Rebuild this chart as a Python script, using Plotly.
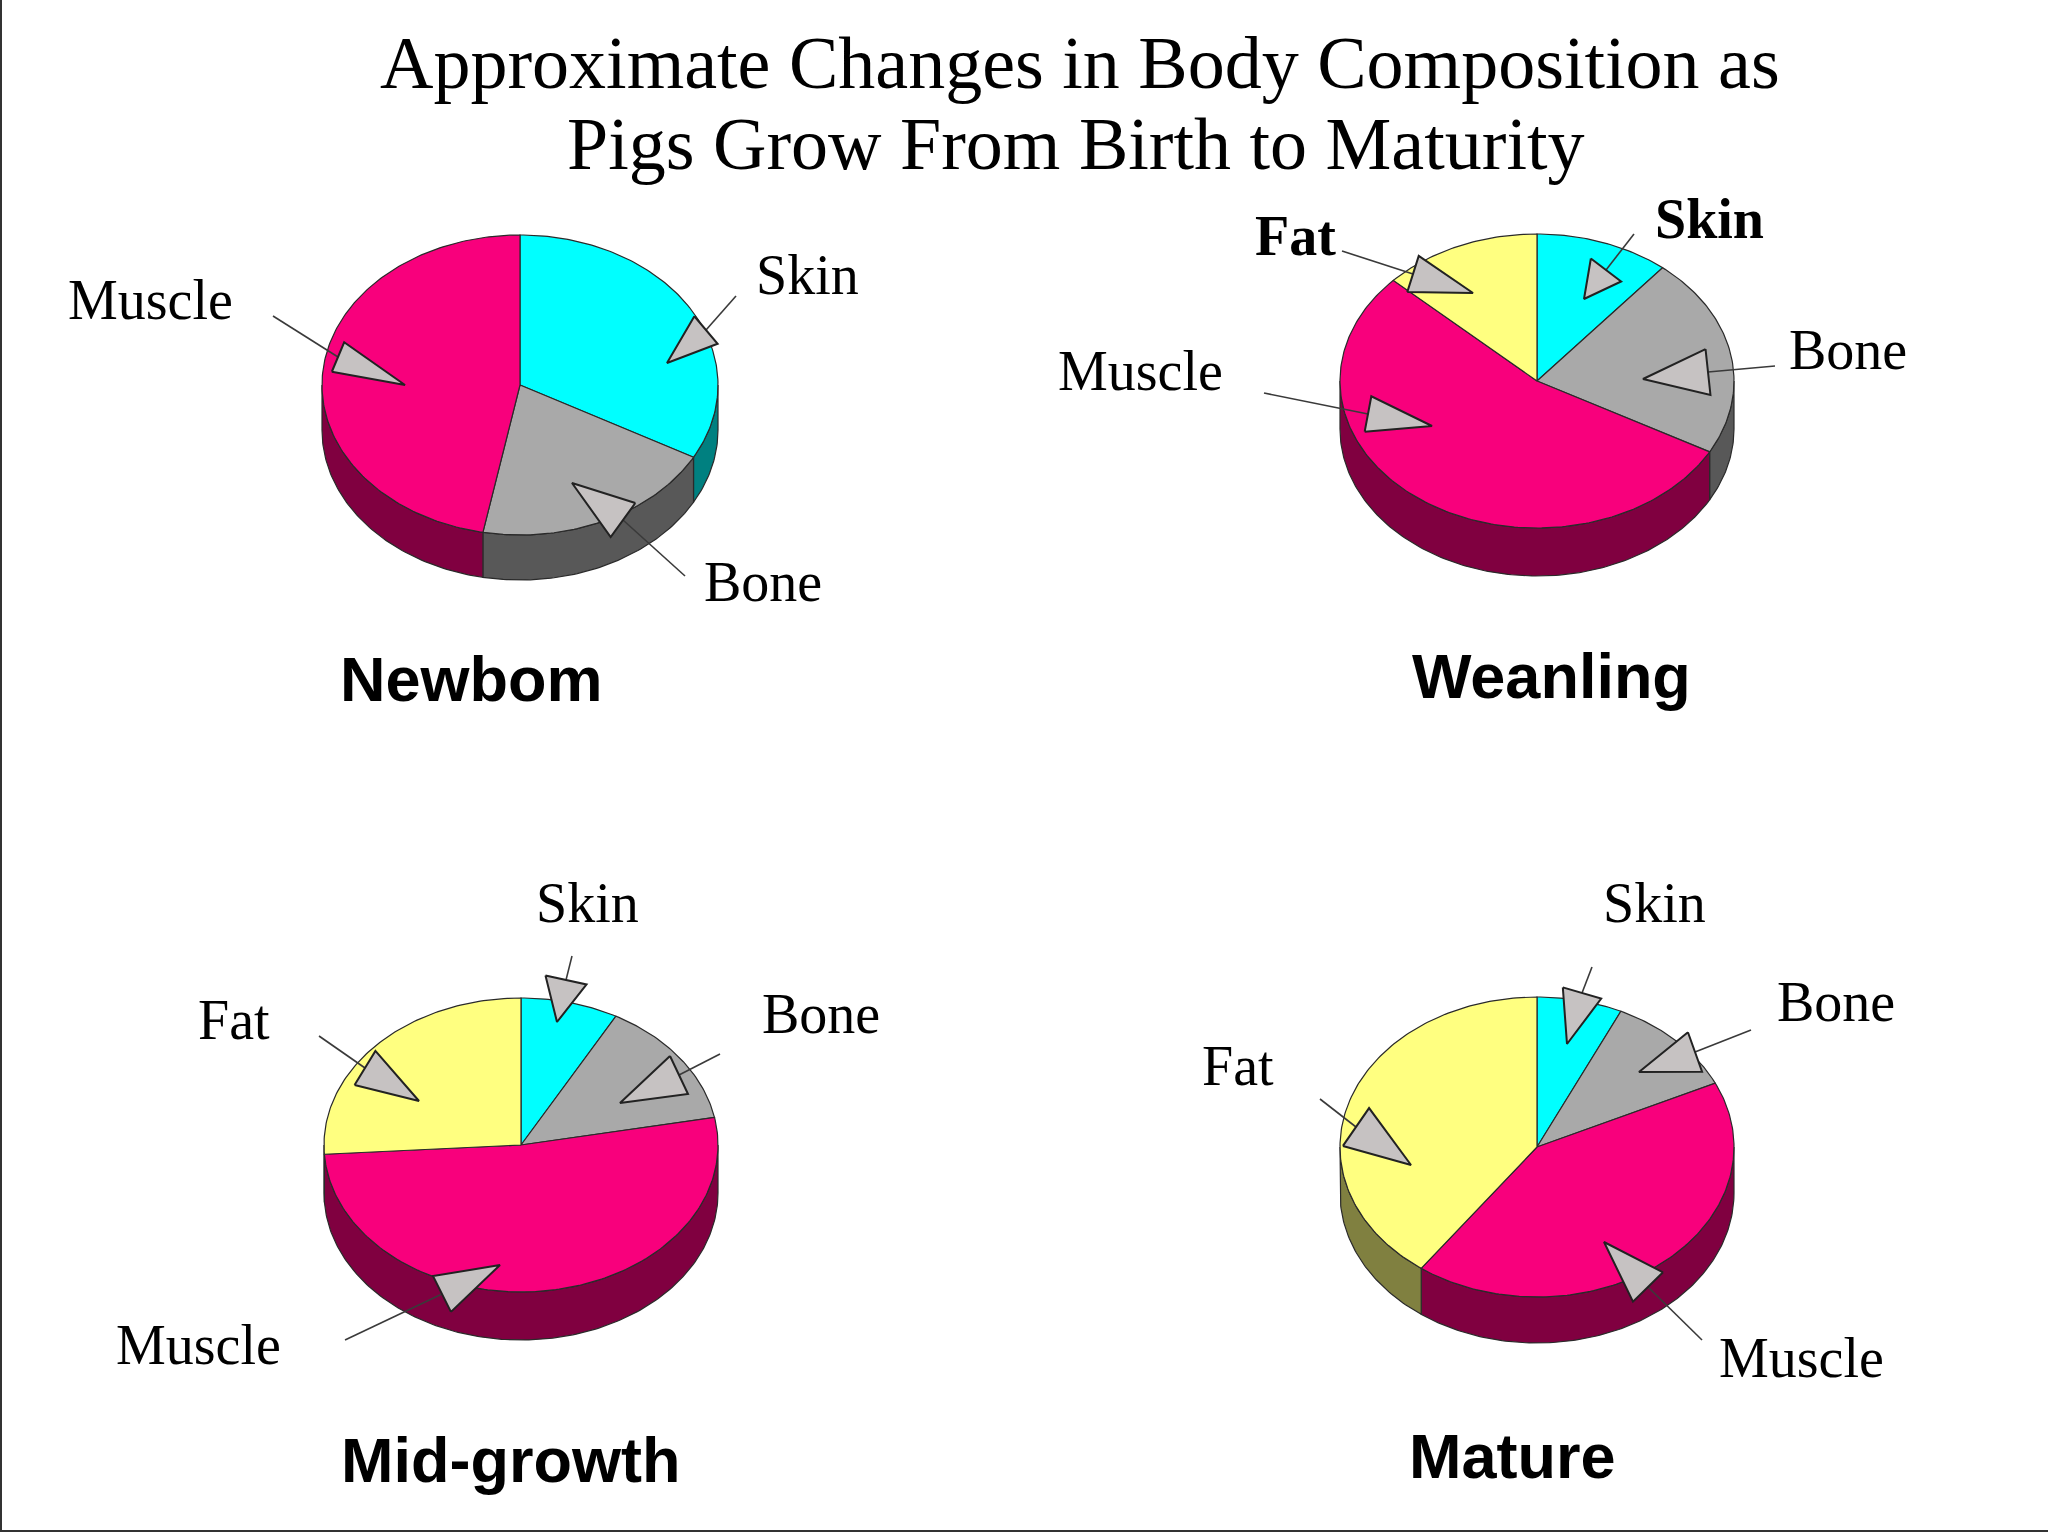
import numpy as np
import plotly.graph_objects as go

# ---------------- data (percent of body, clockwise from 12 o'clock) -------------
components = ["Skin", "Bone", "Muscle", "Fat"]
stage_names = ["Newbom", "Weanling", "Mid-growth", "Mature"]
newborn_pct = [33, 20, 47, 0]
weanling_pct = [11, 22, 54, 13]
midgrowth_pct = [8, 14, 52, 26]
mature_pct = [7, 11, 42, 40]
title_lines = ["Approximate Changes in Body Composition as",
               "Pigs Grow From Birth to Maturity"]

# ---------------- styling ----------------
top_colors = {"Skin": "#00FFFF", "Bone": "#A9A9A9", "Muscle": "#F8007C", "Fat": "#FFFF80"}
side_colors = {"Skin": "#008080", "Bone": "#585858", "Muscle": "#800040", "Fat": "#808040"}
EDGE = "#2a2a2a"
W, H = 2048, 1536

fig = go.Figure()


def ell(cx, cy, rx, ry, a0, a1, dy=0.0):
    n = max(2, int(abs(a1 - a0)) + 2)
    t = np.radians(np.linspace(a0, a1, n))
    return cx + rx * np.sin(t), cy - ry * np.cos(t) + dy


def add_pie(values, cx, cy, rx, ry, depth):
    total = float(sum(values))
    bounds, acc = [], 0.0
    for name, v in zip(components, values):
        if v <= 0:
            continue
        a0 = acc / total * 360.0
        acc += v
        a1 = acc / total * 360.0
        bounds.append((name, a0, a1, v))
    # visible side walls (front half of the disc)
    for name, a0, a1, v in bounds:
        s, e = max(a0, 90.0), min(a1, 270.0)
        if e > s:
            xt, yt = ell(cx, cy, rx, ry, s, e)
            xb, yb = ell(cx, cy, rx, ry, e, s, depth)
            xs = np.concatenate([xt, xb, xt[:1]])
            ys = np.concatenate([yt, yb, yt[:1]])
            fig.add_trace(go.Scatter(x=xs, y=ys, mode="lines", fill="toself",
                                     fillcolor=side_colors[name],
                                     line=dict(color=EDGE, width=1.2),
                                     hoverinfo="skip", showlegend=False))
    # top faces
    for name, a0, a1, v in bounds:
        xa, ya = ell(cx, cy, rx, ry, a0, a1)
        xs = np.concatenate([[cx], xa, [cx]])
        ys = np.concatenate([[cy], ya, [cy]])
        fig.add_trace(go.Scatter(x=xs, y=ys, mode="lines", fill="toself",
                                 fillcolor=top_colors[name],
                                 line=dict(color=EDGE, width=1.2),
                                 name=name, text=f"{name}: {v}%",
                                 hoverinfo="text", showlegend=False))


# pie placement (center x, center y, radius x, radius y, depth)
pies = [
    (newborn_pct, 520, 385, 198, 150, 45),
    (weanling_pct, 1537, 381, 197, 147, 48),
    (midgrowth_pct, 521, 1145, 197, 147, 48),
    (mature_pct, 1537, 1147, 197, 150, 46),
]
for vals, cx, cy, rx, ry, d in pies:
    add_pie(vals, cx, cy, rx, ry, d)

# ---------------- callouts: label, bold?, label pos, line start, base, tip, half width
callouts = [
    ("Muscle", False, (150, 300), (273, 316), (338, 357), (405, 385), 16),
    ("Skin", False, (807, 275), (736, 296), (706, 330), (667, 363), 18),
    ("Bone", False, (763, 582), (685, 576), (623, 520), (572, 483), 21),

    ("Fat", True, (1295, 236), (1342, 251), (1413, 274), (1473, 293), 19),
    ("Skin", True, (1709, 219), (1634, 234), (1606, 270), (1584, 299), 19),
    ("Bone", False, (1848, 350), (1775, 366), (1708, 372), (1643, 379), 23),
    ("Muscle", False, (1140, 371), (1264, 393), (1368, 414), (1432, 426), 18),

    ("Skin", False, (587, 903), (572, 956), (566, 980), (557, 1022), 21),
    ("Fat", False, (234, 1020), (319, 1036), (365, 1068), (419, 1101), 20),
    ("Bone", False, (821, 1014), (720, 1054), (679, 1075), (620, 1103), 21),
    ("Muscle", False, (198, 1345), (345, 1340), (442, 1294), (500, 1265), 20),

    ("Skin", False, (1654, 903), (1592, 967), (1582, 993), (1567, 1044), 20),
    ("Bone", False, (1836, 1002), (1751, 1030), (1695, 1052), (1639, 1072), 21),
    ("Fat", False, (1238, 1066), (1320, 1099), (1356, 1127), (1411, 1165), 23),
    ("Muscle", False, (1801, 1358), (1702, 1340), (1648, 1287), (1604, 1242), 21),
]

annotations = []
for label, bold, lp, ls, base, tip, hw in callouts:
    # leader line
    fig.add_trace(go.Scatter(x=[ls[0], base[0]], y=[ls[1], base[1]], mode="lines",
                             line=dict(color="#3a3a3a", width=1.6),
                             hoverinfo="skip", showlegend=False))
    # triangular arrow head
    d = np.array(tip, float) - np.array(base, float)
    d /= np.linalg.norm(d)
    nrm = np.array([-d[1], d[0]])
    p1 = np.array(base) + hw * nrm
    p2 = np.array(base) - hw * nrm
    fig.add_trace(go.Scatter(x=[p1[0], tip[0], p2[0], p1[0]],
                             y=[p1[1], tip[1], p2[1], p1[1]],
                             mode="lines", fill="toself", fillcolor="#C6C2C2",
                             line=dict(color="#222222", width=2),
                             hoverinfo="skip", showlegend=False))
    txt = f"<b>{label}</b>" if bold else label
    annotations.append(dict(x=lp[0], y=lp[1], xref="x", yref="y", text=txt,
                            showarrow=False, xanchor="center", yanchor="middle",
                            font=dict(family="Liberation Serif", size=56, color="#000000")))

# stage titles
stage_pos = [(471, 679), (1551, 676), (510, 1460), (1512, 1456)]
for name, (x, y) in zip(stage_names, stage_pos):
    annotations.append(dict(x=x, y=y, xref="x", yref="y", text=f"<b>{name}</b>",
                            showarrow=False, xanchor="center", yanchor="middle",
                            font=dict(family="Liberation Sans", size=63, color="#000000")))

# main title
for line, (x, y) in zip(title_lines, [(1080, 63), (1076, 144)]):
    annotations.append(dict(x=x, y=y, xref="x", yref="y", text=line,
                            showarrow=False, xanchor="center", yanchor="middle",
                            font=dict(family="Liberation Serif", size=74, color="#000000")))

fig.update_layout(
    width=W, height=H, autosize=False,
    margin=dict(l=0, r=0, t=0, b=0),
    paper_bgcolor="white", plot_bgcolor="white",
    xaxis=dict(range=[0, W], visible=False, fixedrange=True),
    yaxis=dict(range=[H, 0], visible=False, fixedrange=True),
    annotations=annotations,
    shapes=[
        dict(type="line", xref="x", yref="y", x0=1, x1=1, y0=0, y1=1531,
             line=dict(color="#333333", width=2)),
        dict(type="line", xref="x", yref="y", x0=0, x1=W, y0=1531, y1=1531,
             line=dict(color="#333333", width=2)),
    ],
)

fig.write_html("out.html", config={"displayModeBar": False})
